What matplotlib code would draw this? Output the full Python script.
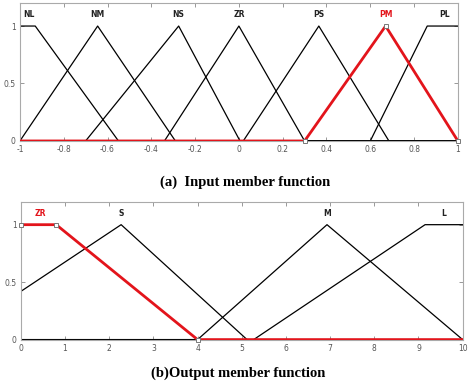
import numpy as np
import matplotlib.pyplot as plt

# input membership functions on [-1, 1]
in_names = ["NL", "NM", "NS", "ZR", "PS", "PM", "PL"]
in_params = [
    [-1.4, -1.0, -0.93, -0.55],
    [-1.0, -0.645, -0.29],
    [-0.70, -0.275, 0.005],
    [-0.34, 0.0, 0.30],
    [0.02, 0.365, 0.685],
    [0.30, 0.67, 1.0],
    [0.60, 0.86, 1.0, 1.4],
]
in_label_x = [-0.96, -0.645, -0.275, 0.0, 0.365, 0.67, 0.94]
in_hl = "PM"
in_ticks = [-1, -0.8, -0.6, -0.4, -0.2, 0, 0.2, 0.4, 0.6, 0.8, 1]

# output membership functions on [0, 10]
out_names = ["ZR", "S", "M", "L"]
out_params = [
    [-1.0, 0.0, 0.8, 4.0],
    [-1.64, 2.27, 5.12],
    [4.0, 6.93, 10.0],
    [5.27, 9.15, 10.0, 11.0],
]
out_label_x = [0.44, 2.27, 6.93, 9.58]
out_hl = "ZR"
out_ticks = list(range(0, 11))

RED = "#e3141b"
GRAY = "#555555"


def mf(x, p):
    if len(p) == 3:
        p = [p[0], p[1], p[1], p[2]]
    a, b, c, d = p
    up = np.where(b > a, (x - a) / max(b - a, 1e-9), 1.0)
    down = np.where(d > c, (d - x) / max(d - c, 1e-9), 1.0)
    return np.clip(np.minimum(up, down), 0, 1)


def draw(ax, names, params, label_x, hl, lo, hi, ticks):
    x = np.linspace(lo, hi, 2001)
    for name, p in zip(names, params):
        if name == hl:
            continue
        ax.plot(x, mf(x, p), color="black", lw=0.9, zorder=2)
    i = names.index(hl)
    p = params[i]
    ax.plot(x, mf(x, p), color=RED, lw=2.0, zorder=3)
    # vertex markers of the highlighted function
    vx = [v for v in p if lo <= v <= hi]
    vy = mf(np.array(vx), p)
    ax.plot(vx, vy, ls="none", marker="s", ms=3.2, mfc="white",
            mec="#777777", mew=0.7, zorder=5, clip_on=False)
    for name, lx in zip(names, label_x):
        ax.text(lx, 1.1, name, ha="center", va="center", fontsize=5.5,
                fontweight="bold", color=RED if name == hl else "#222222")
    ax.set_xlim(lo, hi)
    ax.set_ylim(0, 1.2)
    ax.set_xticks(ticks)
    ax.set_xticklabels([f"{t:g}" for t in ticks])
    ax.set_yticks([0, 0.5, 1])
    ax.set_yticklabels(["0", "0.5", "1"])
    ax.tick_params(direction="in", length=3, width=0.6, labelsize=5.5,
                   labelcolor=GRAY, color="#888888", top=True, right=True,
                   pad=3)
    for s in ax.spines.values():
        s.set_color("#aaaaaa")
        s.set_linewidth(0.8)


fig = plt.figure(figsize=(4.74, 3.82), dpi=100)
ax1 = fig.add_axes([0.042, 0.631, 0.924, 0.361])
ax2 = fig.add_axes([0.044, 0.111, 0.932, 0.361])

draw(ax1, in_names, in_params, in_label_x, in_hl, -1, 1, in_ticks)
draw(ax2, out_names, out_params, out_label_x, out_hl, 0, 10, out_ticks)

fig.text(0.517, 0.523, "(a)  Input member function", ha="center", va="center",
         fontsize=10.5, fontweight="bold", family="Liberation Serif")
fig.text(0.502, 0.024, "(b)Output member function", ha="center", va="center",
         fontsize=10.5, fontweight="bold", family="Liberation Serif")

fig.savefig("out.png", dpi=100)
